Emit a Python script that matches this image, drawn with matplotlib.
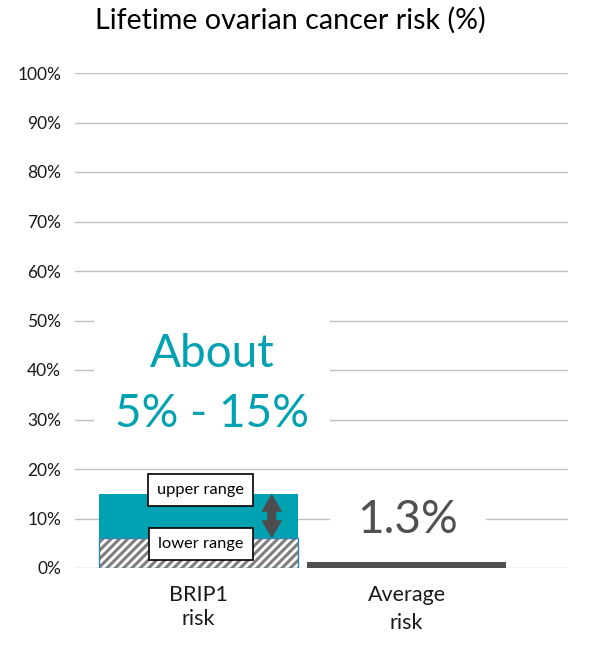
import matplotlib
matplotlib.use('Agg')
import matplotlib.pyplot as plt

# ---- data ----
categories = ['BRIP1\nrisk', 'Average\nrisk']
brip1_upper = 15.0      # upper end of BRIP1 range (%)
brip1_lower = 6.0       # lower (hatched) part of BRIP1 range (%)
average_risk = 1.3      # general population risk (%)
y_ticks = [0, 10, 20, 30, 40, 50, 60, 70, 80, 90, 100]
y_tick_labels = [f'{v}%' for v in y_ticks]
title = 'Lifetime ovarian cancer risk (%)'
headline = 'About\n5% - 15%'
average_label = '1.3%'

TEAL = '#00A2B1'
DARK = '#505050'
GRID = '#BFBFBF'
FONT = 'Lato'

plt.rcParams['font.family'] = [FONT, 'DejaVu Sans']
plt.rcParams['hatch.linewidth'] = 2.2

W, H = 593, 672
fig = plt.figure(figsize=(W / 100, H / 100), dpi=100)
left, right, top, bottom = 75, 568, 73, 568
ax = fig.add_axes([left / W, (H - bottom) / H, (right - left) / W, (bottom - top) / H])

ax.set_xlim(-0.5, 1.5)
ax.set_ylim(0, 100)
positions = [0.0, 0.845]
bar_w = 0.807

# BRIP1 full range (teal)
ax.bar(positions[0], brip1_upper, width=bar_w, color=TEAL, zorder=2)
# lower range hatched
ax.bar(positions[0], brip1_lower, width=bar_w, color='white', edgecolor='#7F7F7F',
       hatch='////', linewidth=0, zorder=3)
ax.bar(positions[0], brip1_lower, width=bar_w, fill=False, edgecolor='#2E86B0',
       linewidth=1.0, zorder=4)
# average risk
ax.bar(positions[1], average_risk, width=bar_w, color=DARK, zorder=7)

# grid / axes styling
ax.set_yticks(y_ticks)
ax.set_yticklabels(y_tick_labels, fontsize=12.5, color='#1a1a1a')
ax.tick_params(axis='y', length=0, pad=10)
ax.set_xticks(positions)
ax.set_xticklabels(categories, fontsize=15.5, color='#1a1a1a')
ax.tick_params(axis='x', length=0, pad=12)
for lbl, ls in zip(ax.get_xticklabels(), [1.25, 1.55]):
    lbl.set_linespacing(ls)
ax.yaxis.grid(True, color=GRID, linewidth=1)
ax.set_axisbelow(True)
for s in ax.spines.values():
    s.set_visible(False)

# headline text
ax.text(0.056, 37.2, headline, ha='center', va='center', fontsize=33, color=TEAL,
        linespacing=1.55, zorder=5,
        bbox=dict(boxstyle='square,pad=0.45', facecolor='white', edgecolor='none'))

# average label
ax.text(0.851, 7.0, average_label, ha='center', va='baseline', fontsize=33, color=DARK,
        zorder=5,
        bbox=dict(boxstyle='square,pad=0.6', facecolor='white', edgecolor='none'))

# range boxes
box_kw = dict(boxstyle='square,pad=0.55', facecolor='white', edgecolor='black', linewidth=1.2)
ax.text(0.011, 15.8, 'upper range', ha='center', va='center', fontsize=11.8,
        color='black', zorder=6, bbox=box_kw)
ax.text(0.011, 4.85, 'lower range', ha='center', va='center', fontsize=11.8,
        color='black', zorder=6, bbox=box_kw)

# double arrow between lower and upper range (two heads from the middle)
arrow_x = 0.298
mid = (brip1_upper + brip1_lower) / 2
arrow_style = 'simple,head_width=1.5,head_length=1.3,tail_width=0.65'
for end in (brip1_upper, brip1_lower):
    ax.annotate('', xy=(arrow_x, end), xytext=(arrow_x, mid),
                arrowprops=dict(arrowstyle=arrow_style, fc='#4D4D4D', ec='none',
                                mutation_scale=10, shrinkA=0, shrinkB=0),
                zorder=6)

fig.text(290 / W, 1 - 20 / H, title, ha='center', va='center', fontsize=20.6, color='black')

fig.savefig('out.png', dpi=100, facecolor='white')
